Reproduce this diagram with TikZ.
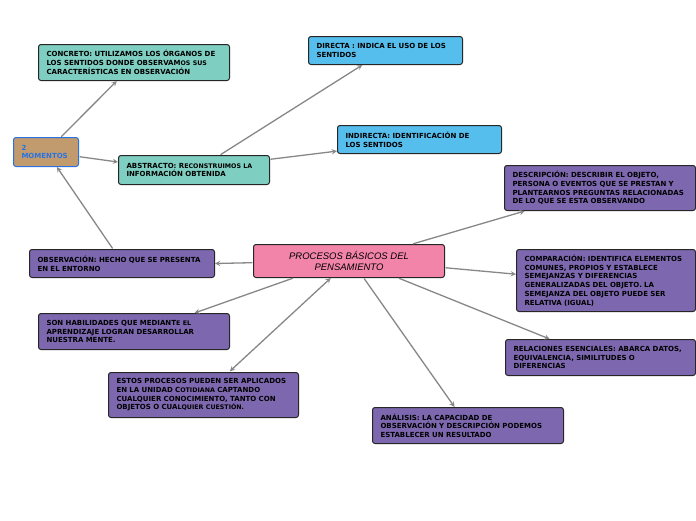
\documentclass[tikz,border=0pt]{standalone}
\usepackage{fontspec}
\setmainfont{DejaVu Sans}
\newfontfamily\titlefont{Liberation Sans}
\usepackage{tikz}
\usetikzlibrary{arrows}
\tikzset{>=stealth}

\definecolor{tealbox}{RGB}{126,206,193}
\definecolor{bluebox}{RGB}{86,190,236}
\definecolor{purplebox}{RGB}{125,104,176}
\definecolor{pinkbox}{RGB}{242,132,170}
\definecolor{tanbox}{RGB}{193,155,110}
\definecolor{momblue}{RGB}{40,115,225}
\definecolor{linkgray}{RGB}{135,135,135}

\newcommand{\sm}[1]{{\fontsize{6.3}{8.7}\selectfont #1}}

\begin{document}
\begin{tikzpicture}[x=1pt,y=-1pt,line cap=round,
  idea/.style={draw=black!85,line width=1pt,rounded corners=2.5pt,
    anchor=north west,inner xsep=8pt,inner ysep=0pt,align=left,
    font=\fontsize{7}{8.7}\selectfont\bfseries,text=black},
  link/.style={->,draw=linkgray,line width=1.3pt,shorten <=1pt}]

  \useasboundingbox (0,0) rectangle (696,520);

  % main node
  \node (central) [idea,fill=pinkbox,align=center,minimum width=191pt,
    minimum height=33pt,font=\titlefont\itshape\fontsize{9.5}{11.5}\selectfont]
    at (253,244) {PROCESOS BÁSICOS DEL\\PENSAMIENTO};

  \node (momentos) [idea,fill=tanbox,draw=momblue,text=momblue,minimum width=65pt,
    minimum height=29pt,text width=49pt] at (13,137) {2\\MOMENTOS};

  \node (concreto) [idea,fill=tealbox,minimum width=191pt,minimum height=36pt,
    text width=175pt] at (38,44)
    {CONCRETO: UTILIZAMOS LOS ÓRGANOS DE\\LOS SENTIDOS DONDE OBSERVAM\sm{OS SUS}\\CARACTERÍSTICAS EN OBSERVACIÓN};
  \node (abstracto) [idea,fill=tealbox,minimum width=151pt,minimum height=29pt,
    text width=135pt] at (118,155)
    {ABSTRACTO: R\sm{ECONSTRUIMOS LA}\\INFORMACIÓN OBTENIDA};
  \node (directa) [idea,fill=bluebox,minimum width=154pt,minimum height=28pt,
    text width=138pt] at (308,36)
    {DIRECTA : INDICA EL USO DE LOS\\SENTIDOS};
  \node (indirecta) [idea,fill=bluebox,minimum width=164pt,minimum height=28pt,
    text width=148pt] at (337,125)
    {INDIRECTA: IDENTIFICACIÓN DE\\LOS SENTIDOS};

  \node (descripcion) [idea,fill=purplebox,minimum width=191pt,minimum height=45pt,
    text width=175pt] at (504,165)
    {DESCRIPCIÓN: DESCRIBIR EL OBJETO,\\PERSONA O EVENTOS QUE SE PRESTAN Y\\PLANTEARNOS PREGUNTAS RELACIONADAS\\DE LO QUE SE ESTA OBSERVANDO};
  \node (comparacion) [idea,fill=purplebox,minimum width=179pt,minimum height=62pt,
    text width=163pt] at (516,249)
    {COMPARACIÓN: IDENTIFICA ELEMENTOS\\COMUNES, PROPIOS Y ESTABLECE\\SEMEJANZAS Y DIFERENCIAS\\GENERALIZADAS DEL OBJETO. LA\\SEMEJANZA DEL OBJETO PUEDE SER\\RELATIVA (IGUAL)};
  \node (relaciones) [idea,fill=purplebox,minimum width=190pt,minimum height=36pt,
    text width=174pt] at (505,339)
    {RELACIONES ESENCIALES: ABARCA DATOS,\\EQUIVALENCIA, SIMILITUDES O\\DIFERENCIAS};
  \node (analisis) [idea,fill=purplebox,minimum width=191pt,minimum height=36pt,
    text width=175pt] at (372,407)
    {ANÁLISIS: LA CAPACIDAD DE\\OBSERVACIÓN Y DESCRIPCIÓN PODEMOS\\ESTABLECER UN RESULTADO};
  \node (estos) [idea,fill=purplebox,minimum width=190pt,minimum height=45pt,
    text width=174pt] at (108,372)
    {ESTOS PROCESOS PUEDEN SER APLICADOS\\EN LA UNIDAD C\sm{OTIDIANA} CAPTANDO\\CUALQUIER CONOCIMIENTO, TANTO CON\\OBJETOS O CUA\sm{LQUIER CUESTIÓN.}};
  \node (habilidades) [idea,fill=purplebox,minimum width=191pt,minimum height=36pt,
    text width=175pt] at (38,313)
    {SON HABILIDADES QUE MEDIANT\sm{E EL}\\APRENDIZAJE LOGRAN DESARROLLAR\\NUESTRA MENTE.};
  \node (observacion) [idea,fill=purplebox,minimum width=185pt,minimum height=28pt,
    text width=169pt] at (29,249)
    {OBSERVACIÓN: HECHO QUE SE PRESENTA\\EN EL ENTORNO};

  % links
  \draw [link] (momentos.45) -- (concreto.227);
  \draw [link] (momentos.-8) -- (abstracto.174);
  \draw [link] (abstracto.30) -- (directa.212);
  \draw [link] (abstracto.8) -- (indirecta.188);
  \draw [link] (observacion.122) -- (momentos.306);

  \draw [link] (central.181) -- (observacion.east);
  \draw [link] (central.197) -- (habilidades.17);
  \draw [link,<->] (estos.42) -- (central.223);
  \draw [link] (central.311) -- (analisis.126);
  \draw [link] (central.341) -- (relaciones.160);
  \draw [link] (central.-4) -- (comparacion.176);
  \draw [link] (central.15) -- (descripcion.197);

\end{tikzpicture}
\end{document}
